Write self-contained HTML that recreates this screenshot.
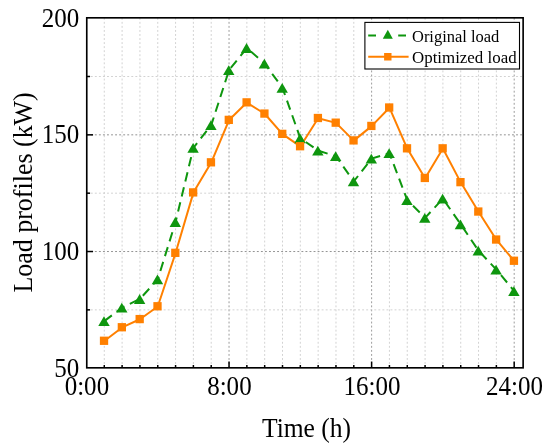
<!DOCTYPE html>
<html><head><meta charset="utf-8"><title>Load profiles</title>
<style>html,body{margin:0;padding:0;background:#fff}svg{display:block}text{font-family:"Liberation Serif","Times New Roman",serif;fill:#000}</style></head>
<body>
<svg width="550" height="447" viewBox="0 0 550 447">
<rect width="550" height="447" fill="#fff"/>
<g fill="none" stroke-width="0.85" stroke-dasharray="1.9 2.15">
<line x1="104.28" y1="17.82" x2="104.28" y2="367.82" stroke="#cacaca"/>
<line x1="122.10" y1="17.82" x2="122.10" y2="367.82" stroke="#cacaca"/>
<line x1="139.93" y1="17.82" x2="139.93" y2="367.82" stroke="#cacaca"/>
<line x1="157.75" y1="17.82" x2="157.75" y2="367.82" stroke="#cacaca"/>
<line x1="175.57" y1="17.82" x2="175.57" y2="367.82" stroke="#cacaca"/>
<line x1="193.39" y1="17.82" x2="193.39" y2="367.82" stroke="#cacaca"/>
<line x1="211.21" y1="17.82" x2="211.21" y2="367.82" stroke="#cacaca"/>
<line x1="229.04" y1="17.82" x2="229.04" y2="367.82" stroke="#8a8a8a"/>
<line x1="246.86" y1="17.82" x2="246.86" y2="367.82" stroke="#cacaca"/>
<line x1="264.68" y1="17.82" x2="264.68" y2="367.82" stroke="#cacaca"/>
<line x1="282.50" y1="17.82" x2="282.50" y2="367.82" stroke="#cacaca"/>
<line x1="300.32" y1="17.82" x2="300.32" y2="367.82" stroke="#cacaca"/>
<line x1="318.15" y1="17.82" x2="318.15" y2="367.82" stroke="#cacaca"/>
<line x1="335.97" y1="17.82" x2="335.97" y2="367.82" stroke="#cacaca"/>
<line x1="353.79" y1="17.82" x2="353.79" y2="367.82" stroke="#cacaca"/>
<line x1="371.61" y1="17.82" x2="371.61" y2="367.82" stroke="#8a8a8a"/>
<line x1="389.43" y1="17.82" x2="389.43" y2="367.82" stroke="#cacaca"/>
<line x1="407.26" y1="17.82" x2="407.26" y2="367.82" stroke="#cacaca"/>
<line x1="425.08" y1="17.82" x2="425.08" y2="367.82" stroke="#cacaca"/>
<line x1="442.90" y1="17.82" x2="442.90" y2="367.82" stroke="#cacaca"/>
<line x1="460.72" y1="17.82" x2="460.72" y2="367.82" stroke="#cacaca"/>
<line x1="478.54" y1="17.82" x2="478.54" y2="367.82" stroke="#cacaca"/>
<line x1="496.37" y1="17.82" x2="496.37" y2="367.82" stroke="#cacaca"/>
<line x1="514.19" y1="17.82" x2="514.19" y2="367.82" stroke="#8a8a8a"/>
<line x1="86.76" y1="309.86" x2="523.13" y2="309.86" stroke="#cacaca"/>
<line x1="86.76" y1="251.52" x2="523.13" y2="251.52" stroke="#808080"/>
<line x1="86.76" y1="193.18" x2="523.13" y2="193.18" stroke="#cacaca"/>
<line x1="86.76" y1="134.84" x2="523.13" y2="134.84" stroke="#808080"/>
<line x1="86.76" y1="76.50" x2="523.13" y2="76.50" stroke="#cacaca"/>
</g>
<g stroke="#000" stroke-width="1.5" fill="none">
<line x1="104.28" y1="367.82" x2="104.28" y2="365.02"/>
<line x1="122.10" y1="367.82" x2="122.10" y2="365.02"/>
<line x1="139.93" y1="367.82" x2="139.93" y2="365.02"/>
<line x1="157.75" y1="367.82" x2="157.75" y2="365.02"/>
<line x1="175.57" y1="367.82" x2="175.57" y2="365.02"/>
<line x1="193.39" y1="367.82" x2="193.39" y2="365.02"/>
<line x1="211.21" y1="367.82" x2="211.21" y2="365.02"/>
<line x1="229.04" y1="367.82" x2="229.04" y2="361.52"/>
<line x1="246.86" y1="367.82" x2="246.86" y2="365.02"/>
<line x1="264.68" y1="367.82" x2="264.68" y2="365.02"/>
<line x1="282.50" y1="367.82" x2="282.50" y2="365.02"/>
<line x1="300.32" y1="367.82" x2="300.32" y2="365.02"/>
<line x1="318.15" y1="367.82" x2="318.15" y2="365.02"/>
<line x1="335.97" y1="367.82" x2="335.97" y2="365.02"/>
<line x1="353.79" y1="367.82" x2="353.79" y2="365.02"/>
<line x1="371.61" y1="367.82" x2="371.61" y2="361.52"/>
<line x1="389.43" y1="367.82" x2="389.43" y2="365.02"/>
<line x1="407.26" y1="367.82" x2="407.26" y2="365.02"/>
<line x1="425.08" y1="367.82" x2="425.08" y2="365.02"/>
<line x1="442.90" y1="367.82" x2="442.90" y2="365.02"/>
<line x1="460.72" y1="367.82" x2="460.72" y2="365.02"/>
<line x1="478.54" y1="367.82" x2="478.54" y2="365.02"/>
<line x1="496.37" y1="367.82" x2="496.37" y2="365.02"/>
<line x1="514.19" y1="367.82" x2="514.19" y2="361.52"/>
<line x1="86.76" y1="309.86" x2="90.06" y2="309.86"/>
<line x1="86.76" y1="251.52" x2="93.06" y2="251.52"/>
<line x1="86.76" y1="193.18" x2="90.06" y2="193.18"/>
<line x1="86.76" y1="134.84" x2="93.06" y2="134.84"/>
<line x1="86.76" y1="76.50" x2="90.06" y2="76.50"/>
</g>
<polyline points="104.28,321.15 122.10,307.62 139.93,298.99 157.75,279.39 175.57,222.01 193.39,147.83 211.21,125.20 229.04,70.15 246.86,47.99 264.68,63.62 282.50,87.88 300.32,138.26 318.15,150.63 335.97,156.22 353.79,181.42 371.61,158.56 389.43,153.19 407.26,200.08 425.08,217.81 442.90,198.68 460.72,224.34 478.54,250.70 496.37,269.59 514.19,291.05" fill="none" stroke="#0e960e" stroke-width="2" stroke-dasharray="9.5 6"/>
<polyline points="104.28,340.97 122.10,327.44 139.93,319.28 157.75,306.45 175.57,253.03 193.39,192.61 211.21,162.52 229.04,120.07 246.86,102.57 264.68,113.77 282.50,134.06 300.32,146.43 318.15,118.20 335.97,122.87 353.79,140.60 371.61,126.13 389.43,107.70 407.26,148.53 425.08,178.15 442.90,148.53 460.72,182.35 478.54,211.74 496.37,239.73 514.19,260.96" fill="none" stroke="#ff8000" stroke-width="2" stroke-linejoin="round"/>
<g fill="#0e960e">
<path d="M103.98,316.25L109.68,326.05L98.28,326.05Z"/>
<path d="M121.80,302.72L127.50,312.52L116.10,312.52Z"/>
<path d="M139.63,294.09L145.33,303.89L133.93,303.89Z"/>
<path d="M157.45,274.49L163.15,284.29L151.75,284.29Z"/>
<path d="M175.27,217.11L180.97,226.91L169.57,226.91Z"/>
<path d="M193.09,142.93L198.79,152.73L187.39,152.73Z"/>
<path d="M210.91,120.30L216.61,130.10L205.21,130.10Z"/>
<path d="M228.74,65.25L234.44,75.05L223.04,75.05Z"/>
<path d="M246.56,43.09L252.26,52.89L240.86,52.89Z"/>
<path d="M264.38,58.72L270.08,68.52L258.68,68.52Z"/>
<path d="M282.20,82.98L287.90,92.78L276.50,92.78Z"/>
<path d="M300.02,133.36L305.72,143.16L294.32,143.16Z"/>
<path d="M317.85,145.73L323.55,155.53L312.15,155.53Z"/>
<path d="M335.67,151.32L341.37,161.12L329.97,161.12Z"/>
<path d="M353.49,176.52L359.19,186.32L347.79,186.32Z"/>
<path d="M371.31,153.66L377.01,163.46L365.61,163.46Z"/>
<path d="M389.13,148.29L394.83,158.09L383.43,158.09Z"/>
<path d="M406.96,195.18L412.66,204.98L401.26,204.98Z"/>
<path d="M424.78,212.91L430.48,222.71L419.08,222.71Z"/>
<path d="M442.60,193.78L448.30,203.58L436.90,203.58Z"/>
<path d="M460.42,219.44L466.12,229.24L454.72,229.24Z"/>
<path d="M478.24,245.80L483.94,255.60L472.54,255.60Z"/>
<path d="M496.07,264.69L501.77,274.49L490.37,274.49Z"/>
<path d="M513.89,286.15L519.59,295.95L508.19,295.95Z"/>
</g>
<g fill="#ff8000">
<rect x="99.88" y="336.62" width="8.3" height="8.3"/>
<rect x="117.70" y="323.09" width="8.3" height="8.3"/>
<rect x="135.53" y="314.93" width="8.3" height="8.3"/>
<rect x="153.35" y="302.10" width="8.3" height="8.3"/>
<rect x="171.17" y="248.68" width="8.3" height="8.3"/>
<rect x="188.99" y="188.26" width="8.3" height="8.3"/>
<rect x="206.81" y="158.17" width="8.3" height="8.3"/>
<rect x="224.64" y="115.72" width="8.3" height="8.3"/>
<rect x="242.46" y="98.22" width="8.3" height="8.3"/>
<rect x="260.28" y="109.42" width="8.3" height="8.3"/>
<rect x="278.10" y="129.71" width="8.3" height="8.3"/>
<rect x="295.92" y="142.08" width="8.3" height="8.3"/>
<rect x="313.75" y="113.85" width="8.3" height="8.3"/>
<rect x="331.57" y="118.52" width="8.3" height="8.3"/>
<rect x="349.39" y="136.25" width="8.3" height="8.3"/>
<rect x="367.21" y="121.78" width="8.3" height="8.3"/>
<rect x="385.03" y="103.35" width="8.3" height="8.3"/>
<rect x="402.86" y="144.18" width="8.3" height="8.3"/>
<rect x="420.68" y="173.80" width="8.3" height="8.3"/>
<rect x="438.50" y="144.18" width="8.3" height="8.3"/>
<rect x="456.32" y="178.00" width="8.3" height="8.3"/>
<rect x="474.14" y="207.39" width="8.3" height="8.3"/>
<rect x="491.97" y="235.38" width="8.3" height="8.3"/>
<rect x="509.79" y="256.61" width="8.3" height="8.3"/>
</g>
<rect x="86.76" y="17.82" width="436.37" height="350.00" fill="none" stroke="#000" stroke-width="1.65"/>
<rect x="364.9" y="22.4" width="154.6" height="46.6" fill="#fff" stroke="#000" stroke-width="1.1"/>
<path d="M368.2,35.5h7.8M398.2,35.5h7.8" stroke="#0e960e" stroke-width="2" fill="none"/>
<path d="M387.8,29.8L392.8,38.8L382.8,38.8Z" fill="#0e960e"/>
<path d="M368.2,56.7h40.4" stroke="#ff8000" stroke-width="2" fill="none"/>
<rect x="384.1" y="53" width="7.4" height="7.5" fill="#ff8000"/>
<text transform="translate(412,41.6) scale(0.936,1)" font-size="17.6" text-anchor="start">Original load</text>
<text transform="translate(412,63.1) scale(0.96,1)" font-size="17.6" text-anchor="start">Optimized load</text>
<text transform="translate(79.2,376.7) scale(0.985,1.04)" font-size="25.4" text-anchor="end">50</text>
<text transform="translate(79.2,260.1) scale(0.985,1.04)" font-size="25.4" text-anchor="end">100</text>
<text transform="translate(79.2,143.4) scale(0.985,1.04)" font-size="25.4" text-anchor="end">150</text>
<text transform="translate(79.2,26.8) scale(0.985,1.04)" font-size="25.4" text-anchor="end">200</text>
<text transform="translate(86.9,395.4) scale(0.985,1.04)" font-size="25.4" text-anchor="middle">0:00</text>
<text transform="translate(229.4,395.4) scale(0.985,1.04)" font-size="25.4" text-anchor="middle">8:00</text>
<text transform="translate(372.0,395.4) scale(0.985,1.04)" font-size="25.4" text-anchor="middle">16:00</text>
<text transform="translate(514.6,395.4) scale(0.985,1.04)" font-size="25.4" text-anchor="middle">24:00</text>
<text transform="translate(306.5,436.6) scale(0.99,1.03)" font-size="25.8" text-anchor="middle">Time (h)</text>
<text transform="translate(31.8,192.4) rotate(-90) scale(1.006,1.06)" font-size="25.8" text-anchor="middle">Load profiles (kW)</text>
</svg>
</body></html>
